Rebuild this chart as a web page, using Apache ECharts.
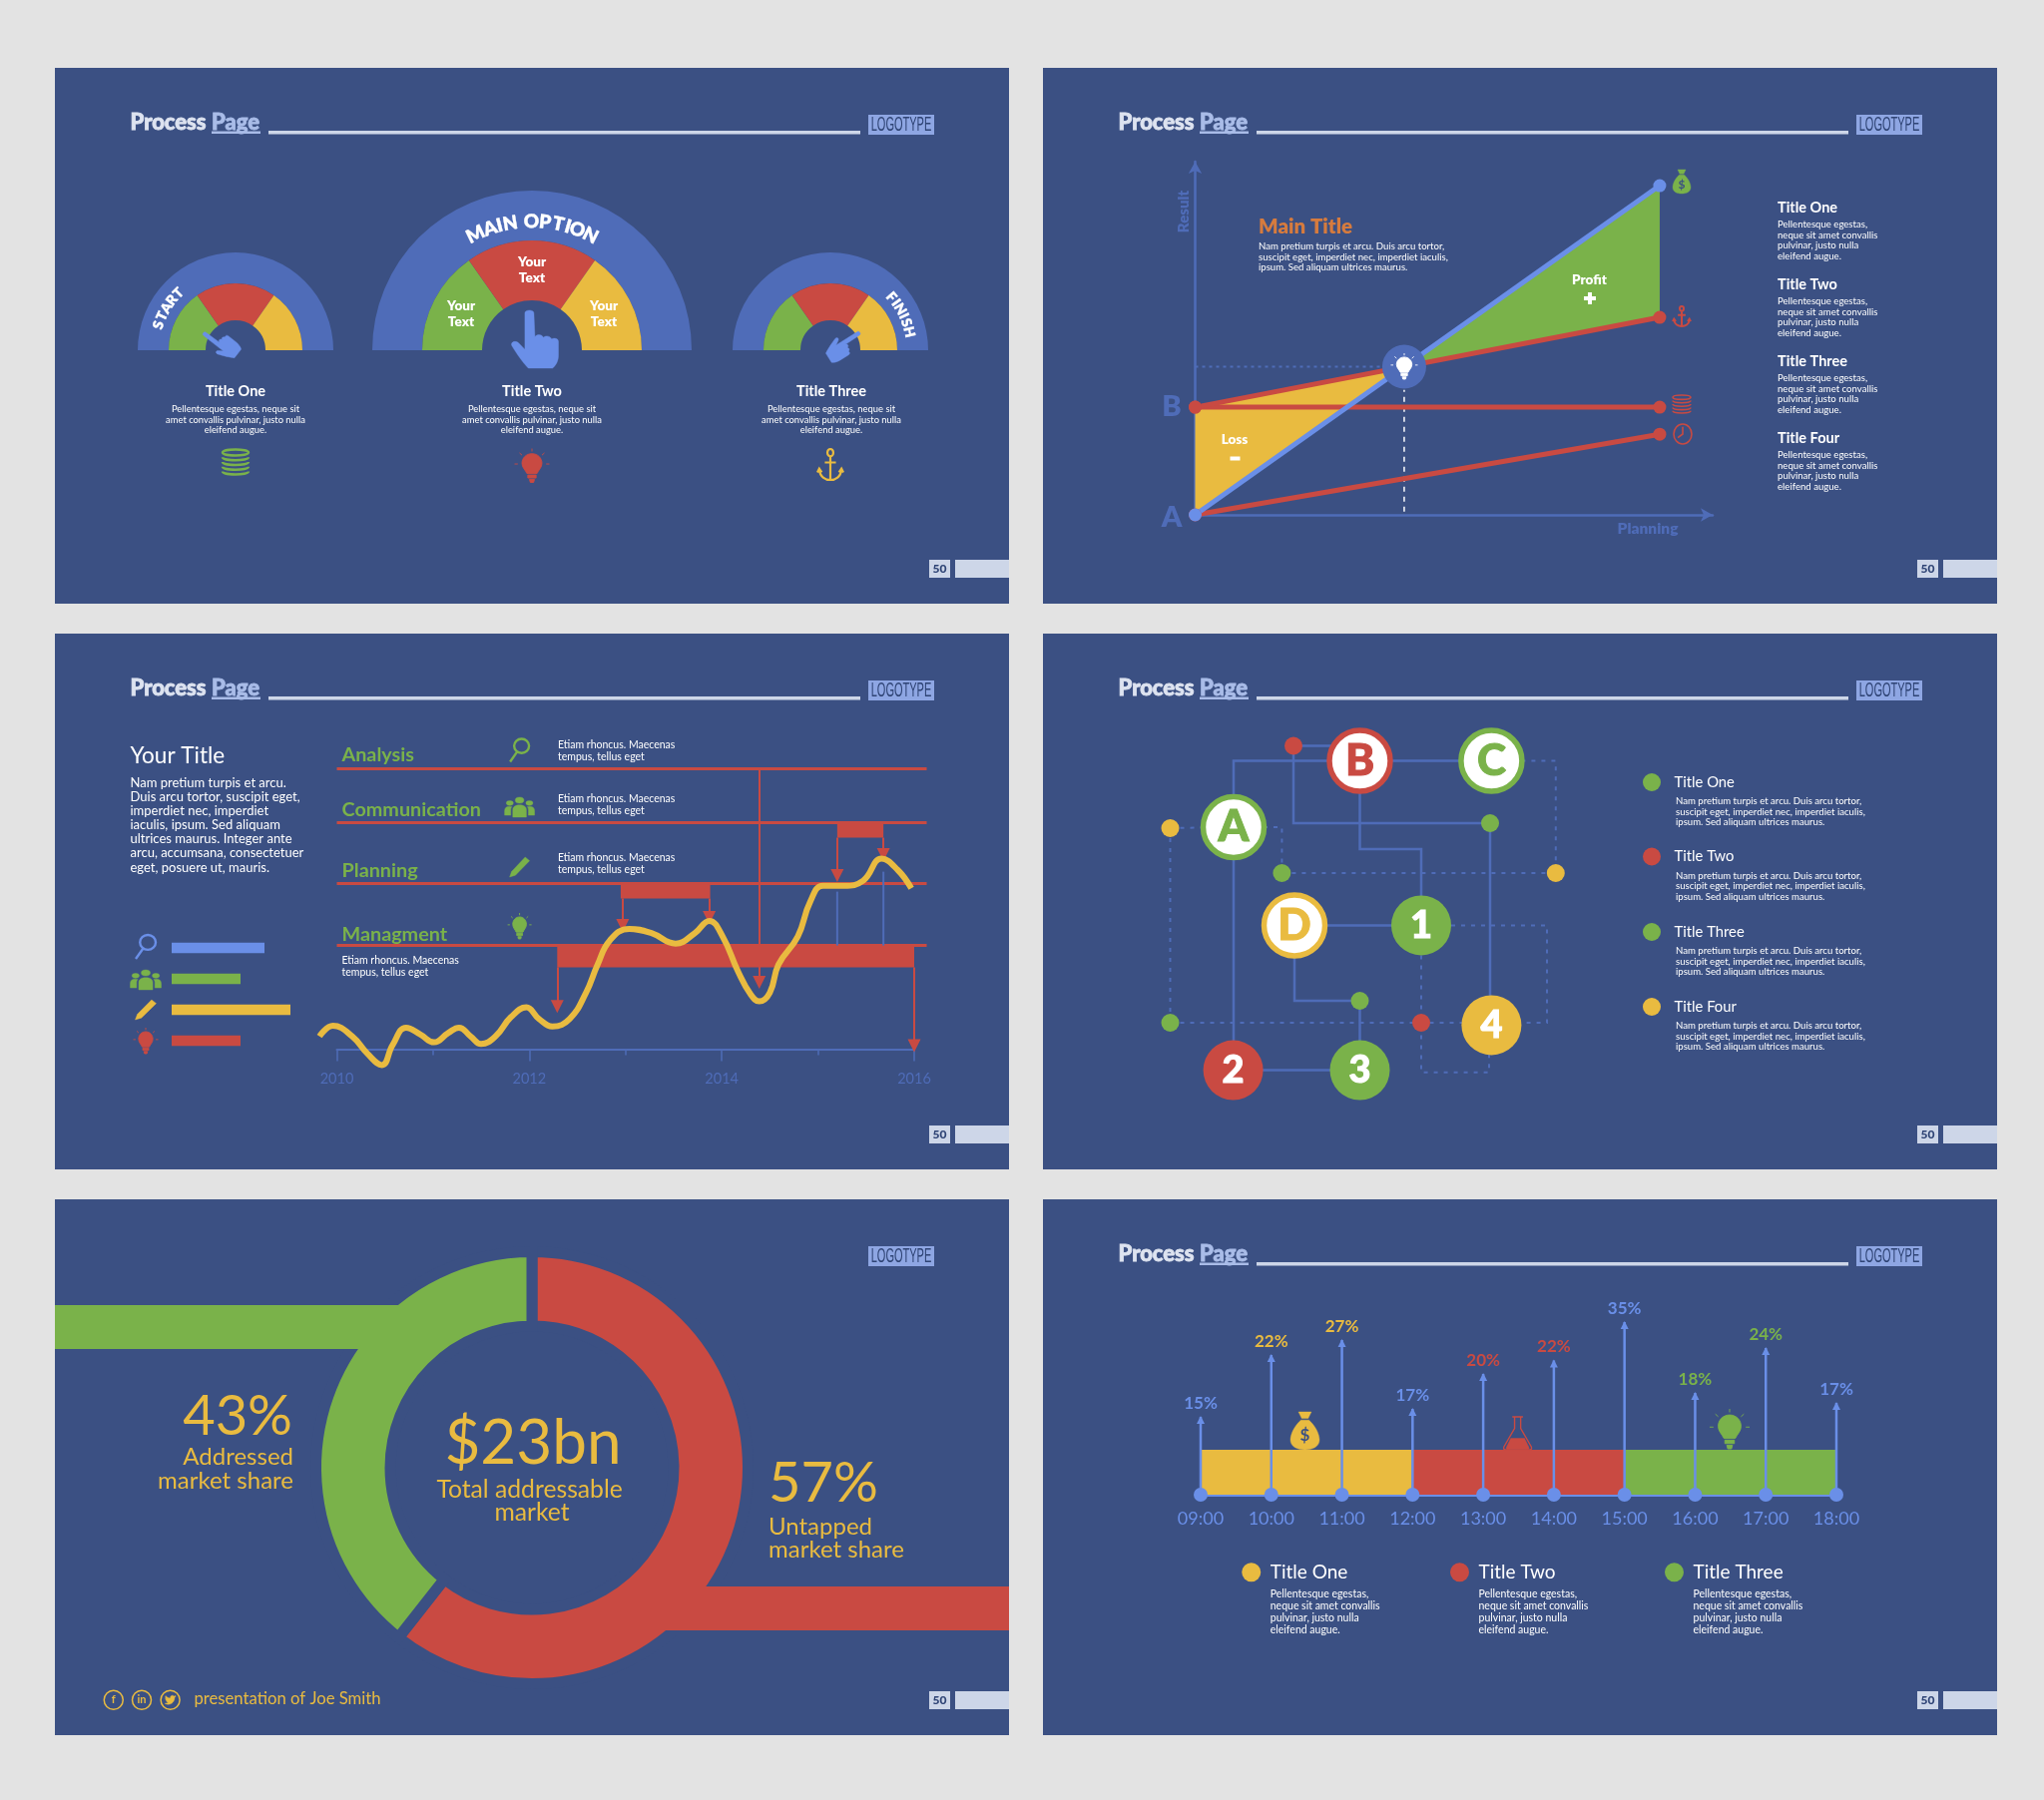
<!DOCTYPE html>
<html><head><meta charset="utf-8">
<style>html,body{margin:0;padding:0;background:#e3e3e3}#c{width:2048px;height:1804px}</style>
<script src="https://cdn.jsdelivr.net/npm/echarts@6/dist/echarts.min.js"></script>
</head><body><div id="c"></div>
<script>
// ---------- data ----------
const gaugeSegments = [55, 70, 55];
const donutShares = [60.6, 39.4];
const revenue = [[0, 0], [100, 100]];
const totalCost = [[0, 32.7], [100, 60]];
const fixedCost = [[0, 32.7], [100, 32.7]];
const variableCost = [[0, 0], [100, 24.5]];
const breakEven = [45, 45];
const lossArea = [[0, 0], [0, 32.7], [45, 45]];
const profitArea = [[45, 45], [100, 100], [100, 60]];
const curveYears = [2009.82,2009.96,2010.16,2010.32,2010.47,2010.58,2010.72,2010.87,2011.01,2011.16,2011.27,2011.39,2011.5,2011.65,2011.81,2011.97,2012.1,2012.24,2012.42,2012.59,2012.71,2012.84,2013.04,2013.27,2013.52,2013.72,2013.87,2014.01,2014.17,2014.3,2014.39,2014.5,2014.59,2014.79,2014.92,2015.05,2015.27,2015.47,2015.66,2015.83,2015.97];
const curveValues = [13,23.5,13,-4.6,-15.8,4.2,21.7,14.7,7,16.5,21.7,13,5.3,13,32.3,42,30.5,22.8,30.5,56.8,84.9,109.4,120.7,116.4,105.9,116.4,128.7,112.9,77.9,55,48,56.8,84.9,112.9,148,163.8,163.8,169,191,179.6,161.3];
const rowLevels = [281, 227, 166, 104];
const rowBars = [[2012.29, 2016, 104, 82], [2012.95, 2013.88, 166, 151], [2015.2, 2015.68, 227, 212]];
const rowArrows = [[2012.29,82,2012.29,42.8],[2016,82,2016,3.5],[2012.97,151,2012.97,124],[2013.87,151,2013.87,132],[2014.39,281,2014.39,67],[2015.2,212,2015.2,174],[2015.68,212,2015.68,195]];
const rowStems = [[2015.2,104,2015.2,158],[2015.68,104,2015.68,178]];
const legendBarNames = ['Analysis','Communication','Planning','Managment'];
const legendBarValues = [93, 69, 119, 69];
const netRing = [['A',86,89],['B',212.5,22.6],['C',344.4,22.6],['D',147,187.4]];
const netSolid = [['1',274,187.4],['2',85.6,332.6],['3',212.5,332.6],['4',344.4,287.4]];
const netDots = [[146,7.5],[343,85],[22.5,90],[134.4,135],[408.8,135],[212.5,263],[22.5,285],[274,285]];
const netLinks = [
 [[86,89],[86,22.6],[212.5,22.6]], [[86,89],[86,332.6]], [[212.5,22.6],[344.4,22.6]], [[146,7.5],[212.5,7.5]],
 [[146,7.5],[146,85],[343,85]], [[212.5,22.6],[212.5,111],[274,111],[274,187.4]], [[343,85],[343,287.4]],
 [[147,187.4],[274,187.4]], [[147,187.4],[147,263],[212.5,263]], [[212.5,263],[212.5,332.6]], [[85.6,332.6],[212.5,332.6]]];
const netDashed = [
 [[344.4,22.6],[408.8,22.6],[408.8,135]], [[22.5,90],[86,89]], [[86,89],[134.4,89],[134.4,135]], [[134.4,135],[408.8,135]],
 [[22.5,90],[22.5,285]], [[22.5,285],[344.4,285]], [[274,187.4],[400,187.4],[400,285],[344.4,285]], [[274,187.4],[274,334.8],[342,334.8],[342,287.4]]];
const hours = ['09:00','10:00','11:00','12:00','13:00','14:00','15:00','16:00','17:00','18:00'];
const hourHeights = [78,140,155,86,121,134.5,173,102,147,92];
const hourLabels = ['15%','22%','27%','17%','20%','22%','35%','18%','24%','17%'];
const hourBands = [[0,3,0,45],[3,6,0,45],[6,9,0,45]];
const loremA = ['Pellentesque egestas, neque sit','amet convallis pulvinar, justo nulla','eleifend augue.'];
const loremB = ['Pellentesque egestas,','neque sit amet convallis','pulvinar, justo nulla','eleifend augue.'];
const loremC = ['Nam pretium turpis et arcu. Duis arcu tortor,','suscipit eget, imperdiet nec, imperdiet iaculis,','ipsum. Sed aliquam ultrices maurus.'];
const loremD = ['Nam pretium turpis et arcu.','Duis arcu tortor, suscipit eget,','imperdiet nec, imperdiet','iaculis, ipsum. Sed aliquam','ultrices maurus. Integer ante','arcu, accumsana, consectetuer','eget, posuere ut, mauris.'];
const loremE = ['Etiam rhoncus. Maecenas','tempus, tellus eget'];

// ---------- style ----------
const BG='#3b5083',GREEN='#7ab24a',RED='#c94a42',YEL='#e9bb40',LBLUE='#6a8fe8',MBLUE='#4f6cb8',PALE='#cdd6e8',WHITE='#ffffff',ORANGE='#d67b3e';
const F='Lato, "Open Sans", sans-serif';
const g=[];
function T(x,y,text,size,color,o){o=o||{};const st={text,fill:color,font:(o.w||'400')+' '+size+'px '+(o.f||F),align:o.a||'left',verticalAlign:'middle'};
 if(o.st){st.stroke=color;st.lineWidth=o.st;}
 g.push({type:'text',x,y,z:50,rotation:o.rot||0,scaleX:o.sx||1,scaleY:o.sy||1,silent:true,style:st});}
function R(x,y,w,h,c,z){g.push({type:'rect',silent:true,z:z==null?1:z,shape:{x,y,width:w,height:h},style:{fill:c}});}
function lines(x,ys,arr,size,color,a){arr.forEach((s,i)=>T(x,ys[i],s,size,color,{a}));}
function seq(y,step,n){const r=[];for(let i=0;i<n;i++)r.push(y+i*step);return r;}
const charW=c=>c==='I'?0.4:c===' '?0.45:c==='M'?1.15:c==='N'?0.95:0.85;
function arc(cx,cy,r,chars,a0,a1,size,color){
 const ws=chars.map(charW);const tot=ws.reduce((s,v)=>s+v,0)-ws[0]/2-ws[ws.length-1]/2;let acc=0;
 chars.forEach((ch,i)=>{if(i>0)acc+=(ws[i-1]+ws[i])/2;const a=(a0+(a1-a0)*acc/tot)*Math.PI/180;
  if(ch!==' ')T(cx+r*Math.cos(a),cy-r*Math.sin(a),ch,size,color,{a:'center',w:'800',rot:a-Math.PI/2,st:0.3});});}

const PANELS=[[55,68],[1045,68],[55,635],[1045,635],[55,1202],[1045,1202]];
PANELS.forEach((p,i)=>{
 const [x,y]=p; R(x,y,956,537,BG,-1);
 if(i!==4){
  T(x+75.5,y+54.5,'Process',22,'#dde3f0',{w:'900',st:0.8});
  T(x+157,y+54.5,'Page',22,'#a9bce8',{w:'900',st:0.8});
  R(x+157,y+63.5,49,2.5,'#a9bce8');
  R(x+214,y+63,593,3.5,PALE);
 }
 R(x+815,y+47,66,20,'#8ea6e3');
 T(x+848,y+57.5,'LOGOTYPE',19,'#2f4475',{a:'center',f:'"Liberation Sans Narrow", sans-serif',sx:0.58,sy:1.05});
 R(x+876,y+493,21,18,PALE);
 T(x+886.5,y+502,'50',12,'#2f4475',{a:'center',w:'900'});
 R(x+902,y+493,54,18,PALE);
});

// panel A text
arc(236,351,81,['S','T','A','R','T'],162,135,14,WHITE);
arc(832,351,81,['F','I','N','I','S','H'],41,13,14,WHITE);
arc(533,351,129,['M','A','I','N',' ','O','P','T','I','O','N'],116,63,19,WHITE);
T(533,263,'Your',13.5,WHITE,{a:'center',w:'800'});T(533,279,'Text',13.5,WHITE,{a:'center',w:'800'});
T(462,307,'Your',13.5,WHITE,{a:'center',w:'800'});T(462,323,'Text',13.5,WHITE,{a:'center',w:'800'});
T(605,307,'Your',13.5,WHITE,{a:'center',w:'800'});T(605,323,'Text',13.5,WHITE,{a:'center',w:'800'});
[[236,'Title One'],[533,'Title Two'],[833,'Title Three']].forEach(([x,t])=>{T(x,392,t,14.5,WHITE,{a:'center',w:'700'});lines(x,seq(410,10.5,3),loremA,9.4,WHITE,'center');});

// panel B text
T(1174,408,'B',29,MBLUE,{a:'center',w:'800'});T(1174,519,'A',29,MBLUE,{a:'center',w:'800'});
T(1186,212,'Result',15,MBLUE,{a:'center',w:'800',rot:Math.PI/2});
T(1651,530,'Planning',15.5,MBLUE,{a:'center',w:'800'});
T(1261,227,'Main Title',20.5,ORANGE,{w:'800'});
lines(1261,seq(247,10.5,3),loremC,9.6,WHITE);
T(1237,441,'Loss',13.5,WHITE,{a:'center',w:'800'});R(1232.5,457.5,10,4,WHITE,20);
T(1592.5,281,'Profit',13.5,WHITE,{a:'center',w:'800'});R(1587,297,12,4,WHITE,20);R(1591,293,4,12,WHITE,20);
[['Title One',208],['Title Two',285],['Title Three',362],['Title Four',439]].forEach(([t,y])=>{T(1781,y,t,14.5,WHITE,{w:'700'});lines(1781,seq(y+17,10.7,4),loremB,9.6,WHITE);});

// panel C text
T(130.5,757.5,'Your Title',22.5,WHITE);
lines(130.5,seq(784.8,14.1,7),loremD,13,WHITE);
[['Analysis',757],['Communication',812],['Planning',873],['Managment',937]].forEach(([t,y])=>T(342.5,y,t,19.8,GREEN,{w:'700'}));
lines(559,[747,758.7],loremE,10.5,WHITE);lines(559,[800.8,812.4],loremE,10.5,WHITE);lines(559,[860,871.7],loremE,10.5,WHITE);lines(342.5,[963,975],loremE,10.5,WHITE);

// panel D text
[['Title One',784,GREEN],['Title Two',858.5,RED],['Title Three',934,GREEN],['Title Four',1009,YEL]].forEach(([t,y,c])=>{
 g.push({type:'circle',z:30,silent:true,shape:{cx:1655,cy:y,r:9},style:{fill:c}});
 T(1677.5,y,t,14.8,WHITE);lines(1679,seq(y+19,10.5,3),loremC,9.6,WHITE);});

// panel E text + bands
R(55,1308,365,44,GREEN,5);R(650,1590,361,44,RED,5);
T(293,1420,'43%',56,YEL,{a:'right'});
T(294,1460.6,'Addressed',24,YEL,{a:'right'});T(294,1483.8,'market share',24,YEL,{a:'right'});
T(534,1446.5,'$23bn',62,YEL,{a:'center'});
T(530.6,1493,'Total addressable',24.7,YEL,{a:'center'});T(533,1516,'market',24.7,YEL,{a:'center'});
T(770,1487,'57%',56,YEL);
T(770,1530,'Untapped',24,YEL);T(770,1553.5,'market share',24,YEL);
[[113.75,'f'],[142,'in']].forEach(([x,t])=>T(x,1703.7,t,11,YEL,{a:'center',w:'700'}));
[113.75,142,170.6].forEach(x=>g.push({type:'circle',z:30,silent:true,shape:{cx:x,cy:1703.7,r:9.5},style:{fill:'none',stroke:YEL,lineWidth:1.5}}));
T(194.4,1703,'presentation of Joe Smith',16.7,YEL);

// panel F text
[[1253.75,'Title One',YEL],[1462.5,'Title Two',RED],[1677.5,'Title Three',GREEN]].forEach(([x,t,c])=>{
 g.push({type:'circle',z:30,silent:true,shape:{cx:x,cy:1575.7,r:9.5},style:{fill:c}});
 T(x+19,1576,t,19,WHITE);lines(x+19,seq(1598,11.8,4),loremB,10.5,WHITE);});

// ---------- icons ----------
const circ=(x,y,r)=>`M${x-r} ${y}a${r} ${r} 0 1 0 ${2*r} 0a${r} ${r} 0 1 0 ${-2*r} 0z`;
const ICON={
 hand:'M9 2C9 .6 11.6 .6 11.6 2L11.9 11.5C12.6 10.2 14.1 10.6 14.3 11.8C15 10.8 16.5 11.2 16.7 12.4C17.5 11.8 18.7 12.2 18.7 13.4L18.7 19C18.7 21 18 23 17 24L10 24C8.5 22 6.5 18 5.2 15C4.8 13.6 6.2 12.8 7.2 14L9 16.5Z',
 bag:'M8 1L16 1L14 5L10 5Z M9.5 6L14.5 6C18 9 21 14 21 18C21 22 17 24 12 24C7 24 3 22 3 18C3 14 6 9 9.5 6Z',
 anchor:'M12 7L12 22 M7.5 10.5L16.5 10.5 M3 15C3.5 20 8 22 12 22C16 22 20.5 20 21 15 M1.5 17L3 14.5L5 17 M19 17L21 14.5L22.5 17 '+circ(12,4,2.4),
 coins:[4,8,12,16,20].map(y=>`M3 ${y}C3 ${y+3.4} 21 ${y+3.4} 21 ${y}`).join(' ')+' M3 4C3 .6 21 .6 21 4',
 bulb:'M12 4C15.5 4 18 7 18 10.5C18 13.5 16 15 15 17.5L9 17.5C8 15 6 13.5 6 10.5C6 7 8.5 4 12 4Z M9.5 18.5L14.5 18.5L14.5 20.5L9.5 20.5Z M10.5 21.5L13.5 21.5L13 23.5L11 23.5Z M12 .5L12 2.5 M4.5 3.5L6 5 M19.5 3.5L18 5 M1.5 11L3.5 11 M20.5 11L22.5 11',
 mag:circ(15,8,6.5)+' M11 13.5L5 22.5',
 people:circ(12,5,3.2)+circ(4.8,8,2.6)+circ(19.2,8,2.6)+'M7 15C7 12 9 10 12 10C15 10 17 12 17 15L17 23L7 23Z M1 16C1 13 2.5 11.5 4.5 11.5C5.3 11.5 5.8 11.7 6.3 12C5.7 13 5.5 14 5.5 15.5L5.5 21L1 21Z M23 16C23 13 21.5 11.5 19.5 11.5C18.7 11.5 18.2 11.7 17.7 12C18.3 13 18.5 14 18.5 15.5L18.5 21L23 21Z',
 pencil:'M18 1L22.5 5L8 21L2 23L4 17Z',
 clock:circ(12,12,11)+' M12 4L12 12L6 16',
 flask:'M8.5 1.5L15.5 1.5 M10 1.5L10 9L3 21C2.5 22.3 3 23 4.5 23L19.5 23C21 23 21.5 22.3 21 21L14 9L14 1.5',
 flaskFill:'M6.5 15L17.5 15L21 21.5C21.5 22.5 21 23 19.5 23L4.5 23C3 23 2.5 22.5 3 21.5Z',
 bird:'M22 5c-.8.4-1.6.6-2.4.7.9-.5 1.5-1.3 1.8-2.3-.8.5-1.7.8-2.6 1C18 3.5 17 3 15.8 3c-2.3 0-4 1.9-4 4.1 0 .3 0 .6.1.9C8.5 7.8 5.5 6.2 3.4 3.7c-.4.6-.6 1.3-.6 2.1 0 1.4.7 2.7 1.8 3.4-.7 0-1.3-.2-1.8-.5 0 2 1.4 3.7 3.3 4.1-.6.2-1.2.2-1.8.1.5 1.6 2 2.8 3.8 2.9C6.7 17 4.8 17.7 2.8 17.7c-.3 0-.7 0-1-.1 1.8 1.2 4 1.9 6.3 1.9 7.5 0 11.7-6.3 11.7-11.8v-.5c.8-.6 1.5-1.3 2.2-2.2z'
};
const iconList=[
 ['hand',221,344,21,40,LBLUE,-52,0],['hand',536,340,47,58,LBLUE,0,0],['hand',846,346,21,40,LBLUE,58,0],
 ['coins',236,463,26,25,GREEN,0,2.4],['bulb',533,466.5,35,34,RED,0,0],['anchor',832,465.5,26,31,YEL,0,2.2],
 ['bag',1685,182,18,24,GREEN,0,0],['anchor',1685,317,18,20,RED,0,2],['coins',1685,405,18,18,RED,0,1.6],['clock',1686,435,18,20,RED,0,1.6],['bulb',1407,367,27,26,WHITE,0,0],
 ['mag',520.6,752,19,23,GREEN,0,2.4],['people',520.6,809,30,20,GREEN,0,0],['pencil',520.6,869,20,20,GREEN,0,0],['bulb',520.6,928,24,26,GREEN,0,0],
 ['mag',146,949,20,24,LBLUE,0,2.4],['people',146,982,31,20,GREEN,0,0],['pencil',146,1012,21,20,YEL,0,0],['bulb',146,1043,25,26,RED,0,0],
 ['bag',1307.5,1434,29,38,YEL,0,0],['flask',1520.6,1436.5,28,33,RED,0,1.4],['flaskFill',1520.6,1447,23,11,RED,0,0],['bulb',1733,1432,40,40,GREEN,0,0],
 ['bird',170.6,1703.7,11,9,YEL,0,0]
];
T(1685,185,'$',12,BG,{a:'center',w:'700'});T(1307.5,1439,'$',17,BG,{a:'center',w:'700'});

// ---------- helpers for series ----------
const pie=(cx,cy,r0,r,data,extra)=>Object.assign({type:'pie',silent:true,center:[cx,cy],radius:[r0,r],label:{show:false},labelLine:{show:false},emphasis:{disabled:true},data},extra||{});
const half={startAngle:180,endAngle:0};
const gaugeData=()=>gaugeSegments.map((v,i)=>({value:v,itemStyle:{color:[GREEN,RED,YEL][i]}}));
function gauge(cx,rOut,rMid,rIn){return [pie(cx,351,rMid,rOut,[{value:1,itemStyle:{color:MBLUE}}],half),pie(cx,351,rIn,rMid,gaugeData(),half)];}
const rectItem=color=>(p,api)=>{const a=api.coord([api.value(0),api.value(2)]),b=api.coord([api.value(1),api.value(3)]);
 const c=typeof color==='function'?color(p.dataIndex):color;
 return {type:'rect',shape:{x:a[0],y:Math.min(a[1],b[1]),width:b[0]-a[0],height:Math.abs(b[1]-a[1])},style:{fill:c}};};
const polyItem=(pts,color)=>(p,api)=>({type:'polygon',shape:{points:pts.map(q=>api.coord(q))},style:{fill:color}});
const cart=(i)=>({xAxisIndex:i,yAxisIndex:i,silent:true});
const lineS=(i,data,color,w,extra)=>Object.assign({type:'line',data,symbol:'circle',symbolSize:13,showSymbol:true,lineStyle:{color,width:w},itemStyle:{color,opacity:1},emphasis:{disabled:true}},cart(i),extra||{});
const plainAxis=o=>Object.assign({type:'value',show:false},o);

const series=[
 ...gauge(236,98,67,30),...gauge(533,160,110,50),...gauge(832,98,67,30),
 // break-even chart
 Object.assign({type:'custom',data:[[0,0]],renderItem:polyItem(lossArea,YEL),encode:{x:0,y:1}},cart(0)),
 Object.assign({type:'custom',data:[[0,0]],renderItem:polyItem(profitArea,GREEN),encode:{x:0,y:1}},cart(0)),
 lineS(0,[[0,breakEven[1]],breakEven],MBLUE,2,{symbol:'none',lineStyle:{color:MBLUE,width:2,type:[3,4]}}),
 lineS(0,[[breakEven[0],1],[breakEven[0],38]],WHITE,1.5,{symbol:'none',lineStyle:{color:WHITE,width:1.5,type:[5,5]}}),
 lineS(0,variableCost,RED,5),lineS(0,fixedCost,RED,5),lineS(0,totalCost,RED,5),lineS(0,revenue,LBLUE,5),
 Object.assign({type:'scatter',data:[breakEven],symbolSize:44,itemStyle:{color:MBLUE,opacity:1},z:3},cart(0)),
 // timeline
 Object.assign({type:'lines',coordinateSystem:'cartesian2d',polyline:true,clip:false,data:rowLevels.map(v=>({coords:[[2010,v],[2016.13,v]]})),lineStyle:{color:RED,width:3,opacity:1}},cart(1)),
 Object.assign({type:'custom',data:rowBars,renderItem:rectItem(RED),encode:{x:[0,1],y:[2,3]}},cart(1)),
 Object.assign({type:'lines',coordinateSystem:'cartesian2d',polyline:true,clip:false,data:rowStems.map(s=>({coords:[[s[0],s[1]],[s[2],s[3]]]})),lineStyle:{color:MBLUE,width:2,opacity:1}},cart(1)),
 Object.assign({type:'lines',coordinateSystem:'cartesian2d',clip:false,symbol:['none','triangle'],symbolSize:13,data:rowArrows.map(s=>({coords:[[s[0],s[1]],[s[2],s[3]]]})),lineStyle:{color:RED,width:2,opacity:1}},cart(1)),
 lineS(5,curveYears.map((y,i)=>[y,curveValues[i]]),YEL,6,{symbol:'none',smooth:0.45,z:4}),
 // left legend bars
 Object.assign({type:'bar',barWidth:10.5,data:legendBarValues.map((v,i)=>({value:v,itemStyle:{color:[LBLUE,GREEN,YEL,RED][i]}}))},cart(2)),
 // network
 Object.assign({type:'lines',coordinateSystem:'cartesian2d',polyline:true,clip:false,data:netDashed.map(c=>({coords:c})),lineStyle:{color:MBLUE,width:2,type:[4,6],opacity:1}},cart(3)),
 Object.assign({type:'lines',coordinateSystem:'cartesian2d',polyline:true,clip:false,data:netLinks.map(c=>({coords:c})),lineStyle:{color:MBLUE,width:2.5,opacity:1}},cart(3)),
 Object.assign({type:'scatter',clip:false,z:5,symbolSize:18,data:netDots.map((d,i)=>({value:d,itemStyle:{opacity:1,color:[RED,GREEN,YEL,GREEN,YEL,GREEN,GREEN,RED][i]}}))},cart(3)),
 Object.assign({type:'scatter',clip:false,z:5,symbolSize:61,data:netRing.map((d,i)=>({value:[d[1],d[2]],name:d[0],itemStyle:{opacity:1,color:WHITE,borderWidth:5.5,borderColor:[GREEN,RED,GREEN,YEL][i]},
   label:{show:true,position:'inside',formatter:d[0],fontFamily:F,fontWeight:900,fontSize:44,color:[GREEN,RED,GREEN,YEL][i],textBorderColor:[GREEN,RED,GREEN,YEL][i],textBorderWidth:1}}))},cart(3)),
 Object.assign({type:'scatter',clip:false,z:5,symbolSize:60,data:netSolid.map((d,i)=>({value:[d[1],d[2]],name:d[0],itemStyle:{opacity:1,color:[GREEN,RED,GREEN,YEL][i]},
   label:{show:true,position:'inside',formatter:d[0],fontFamily:F,fontWeight:900,fontSize:38,color:WHITE,textBorderColor:WHITE,textBorderWidth:1}}))},cart(3)),
 // donut
 pie(533,1471,142,216.5,donutShares.map((v,i)=>({value:v,itemStyle:{color:[RED,GREEN][i],borderColor:BG,borderWidth:11,borderJoin:'miter'}})),{startAngle:90}),
 // hourly chart
 Object.assign({type:'custom',data:hourBands,renderItem:rectItem(i=>[YEL,RED,GREEN][i]),encode:{x:[0,1],y:[2,3]}},cart(4)),
 Object.assign({type:'bar',barWidth:2.5,clip:false,z:4,data:hourHeights,itemStyle:{color:LBLUE}},cart(4)),
 Object.assign({type:'scatter',clip:false,z:4,symbol:'triangle',symbolSize:8,symbolOffset:[0,3],data:hourHeights.map((v,i)=>({value:[i,v],
   label:{show:true,position:'top',distance:4,formatter:hourLabels[i],fontFamily:F,fontWeight:700,fontSize:17,color:[LBLUE,YEL,YEL,LBLUE,RED,RED,LBLUE,GREEN,GREEN,LBLUE][i]}})),itemStyle:{color:LBLUE,opacity:1}},cart(4)),
 Object.assign({type:'scatter',clip:false,z:4,symbolSize:14,data:hours.map((h,i)=>[i,0]),itemStyle:{color:LBLUE,opacity:1}},cart(4)),
 // icons
 {type:'custom',coordinateSystem:'none',silent:true,z:20,data:iconList.map((d,i)=>[i]),renderItem:(p)=>{
   const [n,x,y,w,h,c,rot,lw]=iconList[p.dataIndex];
   return {type:'group',x,y,rotation:-rot*Math.PI/180,children:[{type:'path',shape:{pathData:ICON[n],layout:'cover',x:-w/2,y:-h/2,width:w,height:h},
     style:lw?{fill:null,stroke:c,lineWidth:lw}:{fill:c,stroke:c,lineWidth:n==='bulb'?0.9:0.4}}]};
 }}
];

const option={
 animation:false,backgroundColor:'#e3e3e3',tooltip:{show:false},legend:{show:false},
 grid:[
  {left:1197.5,top:162,width:518.5,height:354},
  {left:337.5,top:751.6,width:578.5,height:320},
  {left:172,top:934.5,width:120,height:124},
  {left:1150,top:740,width:440,height:360},
  {left:1203,top:1318,width:637,height:180},
  {left:320.1,top:751.6,width:595.9,height:320}
 ],
 xAxis:[
  {type:'value',min:0,max:111.4,splitLine:{show:false},axisTick:{show:false},axisLabel:{show:false},axisLine:{show:true,symbol:['none','arrow'],symbolSize:[10,12],lineStyle:{color:MBLUE,width:2.5}},gridIndex:0},
  {type:'value',min:2010,max:2016,interval:2,gridIndex:1,splitLine:{show:false},minorSplitLine:{show:false},
   axisLine:{show:true,onZero:true,lineStyle:{color:MBLUE,width:2}},axisTick:{show:true,length:12,lineStyle:{color:MBLUE,width:1.5}},minorTick:{show:true,splitNumber:2,length:6,lineStyle:{color:MBLUE,width:1.5}},
   axisLabel:{color:MBLUE,fontFamily:F,fontSize:14.5,margin:2,formatter:v=>String(v)}},
  plainAxis({min:0,max:120,gridIndex:2}),
  plainAxis({min:0,max:440,gridIndex:3}),
  {type:'category',data:hours,boundaryGap:false,gridIndex:4,splitLine:{show:false},axisTick:{show:false},axisLine:{show:true,lineStyle:{color:LBLUE,width:3}},axisLabel:{color:LBLUE,fontFamily:F,fontSize:18,margin:15,interval:0}},
  plainAxis({min:2009.82,max:2016,gridIndex:5})
 ],
 yAxis:[
  {type:'value',min:0,max:107.3,splitLine:{show:false},axisTick:{show:false},axisLabel:{show:false},axisLine:{show:true,symbol:['none','arrow'],symbolSize:[10,12],lineStyle:{color:MBLUE,width:2.5}},gridIndex:0},
  plainAxis({min:-20,max:300,gridIndex:1}),
  {type:'category',data:legendBarNames,inverse:true,show:false,gridIndex:2},
  plainAxis({min:0,max:360,inverse:true,gridIndex:3}),
  plainAxis({min:0,max:180,gridIndex:4}),
  plainAxis({min:-20,max:300,gridIndex:5})
 ],
 graphic:{elements:g},
 series
};
const chart=echarts.init(document.getElementById('c'),null,{renderer:'canvas'});
chart.setOption(option);
</script></body></html>
